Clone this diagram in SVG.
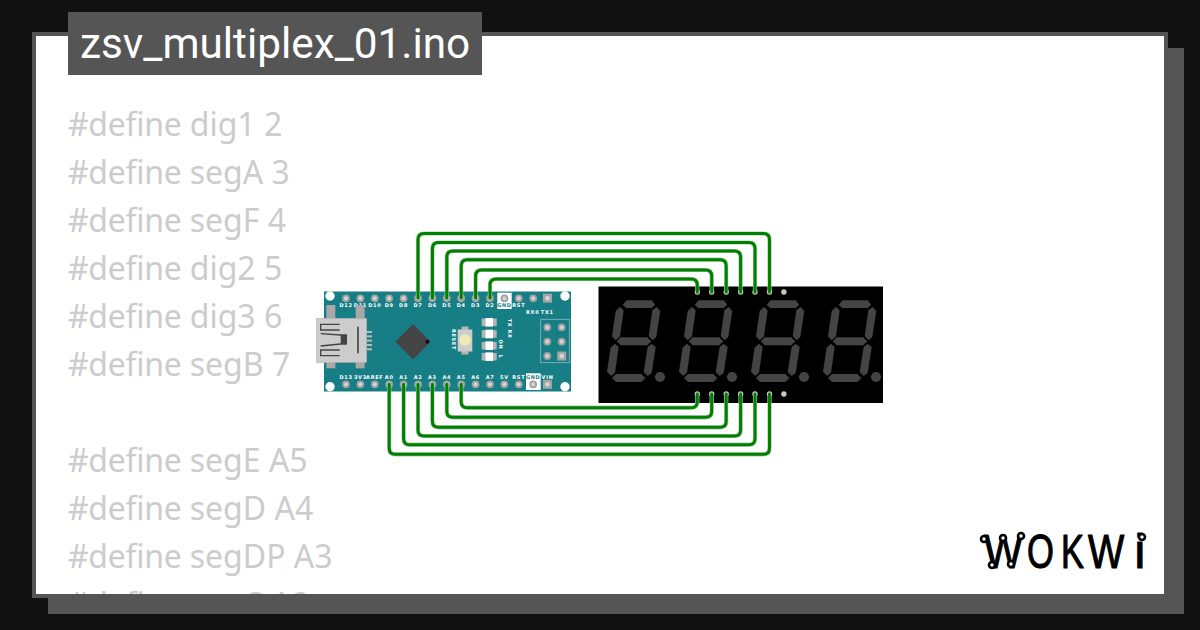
<svg xmlns="http://www.w3.org/2000/svg" xmlns:xlink="http://www.w3.org/1999/xlink" width="1200" height="630" viewBox="0 0 1200 630">
<style>
.code{font-family:"Noto Sans",sans-serif;font-size:32px;fill:#ccc}
.d{letter-spacing:-.3px}
.title{font-family:Roboto,sans-serif;font-size:42.3px;fill:#fff}
.lb{font-family:"DejaVu Sans",sans-serif;font-weight:bold;font-size:5px;fill:#fff;text-anchor:middle;letter-spacing:.7px}
.lbd{font-family:"DejaVu Sans",sans-serif;font-weight:bold;font-size:5px;fill:#177e85;text-anchor:middle;letter-spacing:.7px}
.pin{fill:#d4d4d4;stroke:#a0a0a0;stroke-width:1.8}
.sq{fill:#a4a4a4}
.hole{fill:#fff}
.seg{fill:#444}
.dpin{fill:#c8c8c8}
.wo{fill:none;stroke:#a8c8a8;stroke-width:4.2;stroke-linejoin:round;stroke-linecap:round}
.w{fill:none;stroke:#008000;stroke-width:3;stroke-linejoin:round;stroke-linecap:round}
.lo{fill:#fff;stroke:#000;stroke-width:2.6}
.lg{font-family:"Liberation Sans",sans-serif;font-size:48px;fill:#000;stroke:#000;stroke-width:1.1px;stroke-linejoin:round}
</style>
<defs>
<clipPath id="cl"><rect x="36" y="36" width="1128" height="558"/></clipPath>
<g id="digit">
<polygon class="seg" points="622.7,304.7 626.7,300.3 651.7,300.3 655.3,304.7 651.7,308 626,308"/>
<polygon class="seg" points="656.7,307 660.3,311 656.3,337 652.7,340.3 648.7,336.3 652.3,310.3"/>
<polygon class="seg" points="620,307 623.7,310.3 620,336.3 615.7,340.3 612,336.3 615.7,311"/>
<polygon class="seg" points="616.7,341.3 620.7,337.3 647.3,337.3 651.3,341.3 647.3,345.3 620.7,345.3"/>
<polygon class="seg" points="615,343.7 618.7,347 615,372.7 611.3,376 607,372 610.7,347.3"/>
<polygon class="seg" points="651.7,343.7 655.7,347.3 651.7,372.7 647.7,376 643.7,372 647.7,347"/>
<polygon class="seg" points="612,378 616,374 641.3,374 645.3,378 641.3,382 616,382"/>
<circle class="seg" cx="660" cy="377" r="5"/>
</g>
</defs>
<rect width="1200" height="630" fill="#111"/>
<rect x="48" y="48" width="1136" height="566" fill="#555"/>
<rect x="34" y="34" width="1132" height="562" fill="#fff" stroke="#555" stroke-width="4"/>
<g clip-path="url(#cl)">
<text class="code" x="68" y="136"><tspan class="d">#define</tspan> dig1 2</text>
<text class="code" x="68" y="184"><tspan class="d">#define</tspan> segA 3</text>
<text class="code" x="68" y="232"><tspan class="d">#define</tspan> segF 4</text>
<text class="code" x="68" y="280"><tspan class="d">#define</tspan> dig2 5</text>
<text class="code" x="68" y="328"><tspan class="d">#define</tspan> dig3 6</text>
<text class="code" x="68" y="376"><tspan class="d">#define</tspan> segB 7</text>
<text class="code" x="68" y="472"><tspan class="d">#define</tspan> segE A5</text>
<text class="code" x="68" y="520"><tspan class="d">#define</tspan> segD A4</text>
<text class="code" x="68" y="568"><tspan class="d">#define</tspan> segDP A3</text>
<text class="code" x="68" y="616"><tspan class="d">#define</tspan> segC A2</text>
</g>
<rect x="68" y="12" width="414" height="63" fill="#555"/>
<text class="title" x="80" y="58">zsv_multiplex_01.ino</text>

<g id="nano">
<rect x="324" y="291.5" width="247" height="100" fill="#177e85"/>
<circle class="hole" cx="330" cy="296" r="4.7"/>
<circle class="hole" cx="565" cy="296" r="4.7"/>
<circle class="hole" cx="330" cy="386.7" r="4.7"/>
<circle class="hole" cx="565" cy="386.7" r="4.7"/>
<rect x="497.3" y="292.7" width="14.4" height="16.3" fill="#fff"/>
<rect x="526" y="373.3" width="14.7" height="16.7" fill="#fff"/>
<g id="top-pins">
<circle class="pin" cx="346" cy="298.3" r="3"/><circle class="pin" cx="360.4" cy="298.3" r="3"/><circle class="pin" cx="374.8" cy="298.3" r="3"/><circle class="pin" cx="389.2" cy="298.3" r="3"/><circle class="pin" cx="403.6" cy="298.3" r="3"/><circle class="pin" cx="418" cy="298.3" r="3"/><circle class="pin" cx="432.4" cy="298.3" r="3"/><circle class="pin" cx="446.8" cy="298.3" r="3"/><circle class="pin" cx="461.2" cy="298.3" r="3"/><circle class="pin" cx="475.6" cy="298.3" r="3"/><circle class="pin" cx="490" cy="298.3" r="3"/><circle class="pin" cx="504.4" cy="298.3" r="3"/><circle class="pin" cx="518.8" cy="298.3" r="3"/><circle class="pin" cx="533.2" cy="298.3" r="3"/>
<rect class="sq" x="543" y="293.7" width="9" height="9"/><circle cx="547.5" cy="298.3" r="2.4" fill="#d4d4d4"/>
</g>
<g id="bottom-pins">
<circle class="pin" cx="346" cy="384.3" r="3"/><circle class="pin" cx="360.4" cy="384.3" r="3"/><circle class="pin" cx="374.8" cy="384.3" r="3"/><circle class="pin" cx="389.2" cy="384.3" r="3"/><circle class="pin" cx="403.6" cy="384.3" r="3"/><circle class="pin" cx="418" cy="384.3" r="3"/><circle class="pin" cx="432.4" cy="384.3" r="3"/><circle class="pin" cx="446.8" cy="384.3" r="3"/><circle class="pin" cx="461.2" cy="384.3" r="3"/><circle class="pin" cx="475.6" cy="384.3" r="3"/><circle class="pin" cx="490" cy="384.3" r="3"/><circle class="pin" cx="504.4" cy="384.3" r="3"/><circle class="pin" cx="518.8" cy="384.3" r="3"/><circle class="pin" cx="533.2" cy="384.3" r="3"/>
<rect class="sq" x="543" y="379.8" width="9" height="9"/><circle cx="547.5" cy="384.3" r="2.4" fill="#d4d4d4"/>
</g>
<g id="nano-labels">
<text class="lb" x="346" y="307.3">D12</text><text class="lb" x="360.4" y="307.3">D11</text><text class="lb" x="374.8" y="307.3">D10</text><text class="lb" x="389.2" y="307.3">D9</text><text class="lb" x="403.6" y="307.3">D8</text><text class="lb" x="418" y="307.3">D7</text><text class="lb" x="432.4" y="307.3">D6</text><text class="lb" x="446.8" y="307.3">D5</text><text class="lb" x="461.2" y="307.3">D4</text><text class="lb" x="475.6" y="307.3">D3</text><text class="lb" x="490" y="307.3">D2</text><text class="lbd" x="504.4" y="307.3">GND</text><text class="lb" x="518.8" y="307.3">RST</text>
<text class="lb" x="532.7" y="313.5">RX0</text><text class="lb" x="547.3" y="313.5">TX1</text>
<text class="lb" x="346" y="378.5">D13</text><text class="lb" x="360.4" y="378.5">3V3</text><text class="lb" x="374.8" y="378.5">AREF</text><text class="lb" x="389.2" y="378.5">A0</text><text class="lb" x="403.6" y="378.5">A1</text><text class="lb" x="418" y="378.5">A2</text><text class="lb" x="432.4" y="378.5">A3</text><text class="lb" x="446.8" y="378.5">A4</text><text class="lb" x="461.2" y="378.5">A5</text><text class="lb" x="475.6" y="378.5">A6</text><text class="lb" x="490" y="378.5">A7</text><text class="lb" x="504.4" y="378.5">5V</text><text class="lb" x="518.8" y="378.5">RST</text><text class="lbd" x="533.2" y="378.5">GND</text><text class="lb" x="547.6" y="378.5">VIN</text>
<text class="lb" transform="translate(507.5,323) rotate(90)">TX</text>
<text class="lb" transform="translate(507.5,334) rotate(90)">RX</text>
<text class="lb" transform="translate(498.5,344.5) rotate(90)">ON</text>
<text class="lb" transform="translate(498.5,356.7) rotate(90)">L</text>
<text class="lb" transform="translate(452,339.5) rotate(90)">RESET</text>
</g>
<g id="usb" transform="translate(314,310) scale(.3333)">
<rect x="37" y="-15" width="27" height="40" fill="#a8a8a8"/>
<rect x="125" y="-15" width="27" height="40" fill="#a8a8a8"/>
<rect x="37" y="155" width="27" height="20" fill="#a8a8a8"/>
<rect x="125" y="155" width="27" height="20" fill="#a8a8a8"/>
<rect x="158" y="63" width="16" height="6" fill="#bbb"/><rect x="158" y="76" width="16" height="6" fill="#bbb"/><rect x="158" y="89" width="16" height="6" fill="#bbb"/><rect x="158" y="102" width="16" height="6" fill="#bbb"/><rect x="158" y="115" width="16" height="6" fill="#bbb"/>
<rect x="8" y="25" width="150" height="132" fill="#ccc" stroke="#b4b4b4" stroke-width="2"/>
<path d="M77,43H20V60H77M77,120H20V137H77" fill="none" stroke="#444" stroke-width="4"/>
<path d="M20,71L80,75H97V102H80L20,108" fill="none" stroke="#444" stroke-width="4"/>
<rect x="80" y="75" width="17" height="27" fill="#444"/>
<path d="M132,50V130" stroke="#444" stroke-width="5"/>
</g>
<g id="chip">
<polygon points="413,324 430.7,341.7 413,359.4 395.3,341.7" fill="#444"/>
<circle cx="427.3" cy="341.7" r="2" fill="#111"/>
</g>
<g id="reset">
<rect x="461.5" y="326.5" width="7" height="4" fill="#b5b5b5"/>
<rect x="461.5" y="350.5" width="7" height="4" fill="#b5b5b5"/>
<rect x="457.7" y="329.5" width="14.6" height="22" fill="#ccc"/>
<circle cx="465" cy="340" r="5.7" fill="#eeeab2"/>
</g>
<g id="leds">
<rect x="481.7" y="318.5" width="15" height="7.6" fill="#b5b5b5"/><rect x="485.5" y="318" width="7.5" height="8.6" fill="#fff"/>
<rect x="481.7" y="330.2" width="15" height="7.6" fill="#b5b5b5"/><rect x="485.5" y="329.7" width="7.5" height="8.6" fill="#fff"/>
<rect x="481.7" y="341.9" width="15" height="7.6" fill="#b5b5b5"/><rect x="485.5" y="341.4" width="7.5" height="8.6" fill="#fff"/>
<rect x="481.7" y="352.9" width="15" height="7.6" fill="#b5b5b5"/><rect x="485.5" y="352.4" width="7.5" height="8.6" fill="#fff"/>
</g>
<g id="icsp">
<rect x="540.7" y="319.3" width="28.6" height="43.4" fill="none" stroke="#8fb8bd" stroke-width=".8"/>
<circle class="pin" cx="547.3" cy="327.3" r="3"/><circle class="pin" cx="561.7" cy="327.3" r="3"/>
<circle class="pin" cx="547.3" cy="341.7" r="3"/><circle class="pin" cx="561.7" cy="341.7" r="3"/>
<circle class="pin" cx="547.3" cy="356" r="3"/>
<rect class="sq" x="557.2" y="351.5" width="9" height="9"/><circle cx="561.7" cy="356" r="2.4" fill="#d4d4d4"/>
</g>
</g>

<g id="display">
<rect x="598.5" y="286.5" width="284.5" height="116.5" fill="#000"/>
<use xlink:href="#digit" href="#digit"/>
<use xlink:href="#digit" href="#digit" x="72"/>
<use xlink:href="#digit" href="#digit" x="144"/>
<use xlink:href="#digit" href="#digit" x="216"/>
<circle class="dpin" cx="697.3" cy="292" r="2.7"/><circle class="dpin" cx="711.7" cy="292" r="2.7"/><circle class="dpin" cx="726.2" cy="292" r="2.7"/><circle class="dpin" cx="740.6" cy="292" r="2.7"/><circle class="dpin" cx="755" cy="292" r="2.7"/><circle class="dpin" cx="769.5" cy="292" r="2.7"/><circle class="dpin" cx="783.9" cy="292" r="2.7"/>
<circle class="dpin" cx="697.3" cy="394" r="2.7"/><circle class="dpin" cx="711.7" cy="394" r="2.7"/><circle class="dpin" cx="726.2" cy="394" r="2.7"/><circle class="dpin" cx="740.6" cy="394" r="2.7"/><circle class="dpin" cx="755" cy="394" r="2.7"/><circle class="dpin" cx="769.5" cy="394" r="2.7"/><circle class="dpin" cx="783.9" cy="394" r="2.7"/>
</g>

<g id="connectors">
<path class="wo" d="M418,298V239.5Q418,233.5 424,233.5H763.5Q769.5,233.5 769.5,239.5V292"/>
<path class="wo" d="M432.4,298V248.5Q432.4,242.5 438.4,242.5H749Q755,242.5 755,248.5V292"/>
<path class="wo" d="M446.8,298V257Q446.8,251 452.8,251H734.6Q740.6,251 740.6,257V292"/>
<path class="wo" d="M461.2,298V265.7Q461.2,259.7 467.2,259.7H720.2Q726.2,259.7 726.2,265.7V292"/>
<path class="wo" d="M475.6,298V276Q475.6,270 481.6,270H705.7Q711.7,270 711.7,276V292"/>
<path class="wo" d="M490,298V285Q490,279 496,279H691.3Q697.3,279 697.3,285V292"/>
<path class="wo" d="M389.2,384.3V448.3Q389.2,454.3 395.2,454.3H763.5Q769.5,454.3 769.5,448.3V394"/>
<path class="wo" d="M403.6,384.3V438.7Q403.6,444.7 409.6,444.7H749Q755,444.7 755,438.7V394"/>
<path class="wo" d="M418,384.3V430Q418,436 424,436H734.6Q740.6,436 740.6,430V394"/>
<path class="wo" d="M432.4,384.3V421.3Q432.4,427.3 438.4,427.3H720.2Q726.2,427.3 726.2,421.3V394"/>
<path class="wo" d="M446.8,384.3V411.3Q446.8,417.3 452.8,417.3H705.7Q711.7,417.3 711.7,411.3V394"/>
<path class="wo" d="M461.2,384.3V401.7Q461.2,407.7 467.2,407.7H691.3Q697.3,407.7 697.3,401.7V394"/>
<path class="w" d="M418,298V239.5Q418,233.5 424,233.5H763.5Q769.5,233.5 769.5,239.5V292"/>
<path class="w" d="M432.4,298V248.5Q432.4,242.5 438.4,242.5H749Q755,242.5 755,248.5V292"/>
<path class="w" d="M446.8,298V257Q446.8,251 452.8,251H734.6Q740.6,251 740.6,257V292"/>
<path class="w" d="M461.2,298V265.7Q461.2,259.7 467.2,259.7H720.2Q726.2,259.7 726.2,265.7V292"/>
<path class="w" d="M475.6,298V276Q475.6,270 481.6,270H705.7Q711.7,270 711.7,276V292"/>
<path class="w" d="M490,298V285Q490,279 496,279H691.3Q697.3,279 697.3,285V292"/>
<path class="w" d="M389.2,384.3V448.3Q389.2,454.3 395.2,454.3H763.5Q769.5,454.3 769.5,448.3V394"/>
<path class="w" d="M403.6,384.3V438.7Q403.6,444.7 409.6,444.7H749Q755,444.7 755,438.7V394"/>
<path class="w" d="M418,384.3V430Q418,436 424,436H734.6Q740.6,436 740.6,430V394"/>
<path class="w" d="M432.4,384.3V421.3Q432.4,427.3 438.4,427.3H720.2Q726.2,427.3 726.2,421.3V394"/>
<path class="w" d="M446.8,384.3V411.3Q446.8,417.3 452.8,417.3H705.7Q711.7,417.3 711.7,411.3V394"/>
<path class="w" d="M461.2,384.3V401.7Q461.2,407.7 467.2,407.7H691.3Q697.3,407.7 697.3,401.7V394"/>
</g>

<g id="logo">
<text class="lg" transform="translate(984,568) scale(.85,1)">W</text>
<text class="lg" transform="translate(1027,568) scale(.72,1)">O</text>
<text class="lg" transform="translate(1061,568) scale(.72,1)">K</text>
<text class="lg" transform="translate(1088,568) scale(.8,1)">W</text>
<text class="lg" transform="translate(1134.5,568)">i</text>
<circle class="lo" cx="984" cy="539" r="3"/>
<circle class="lo" cx="1003" cy="538" r="3"/>
<circle class="lo" cx="1021" cy="536" r="3"/>
<circle class="lo" cx="992" cy="565" r="3"/>
<circle class="lo" cx="1011" cy="564" r="3"/>
<circle class="lo" cx="1142" cy="537" r="3"/>
</g>
</svg>
